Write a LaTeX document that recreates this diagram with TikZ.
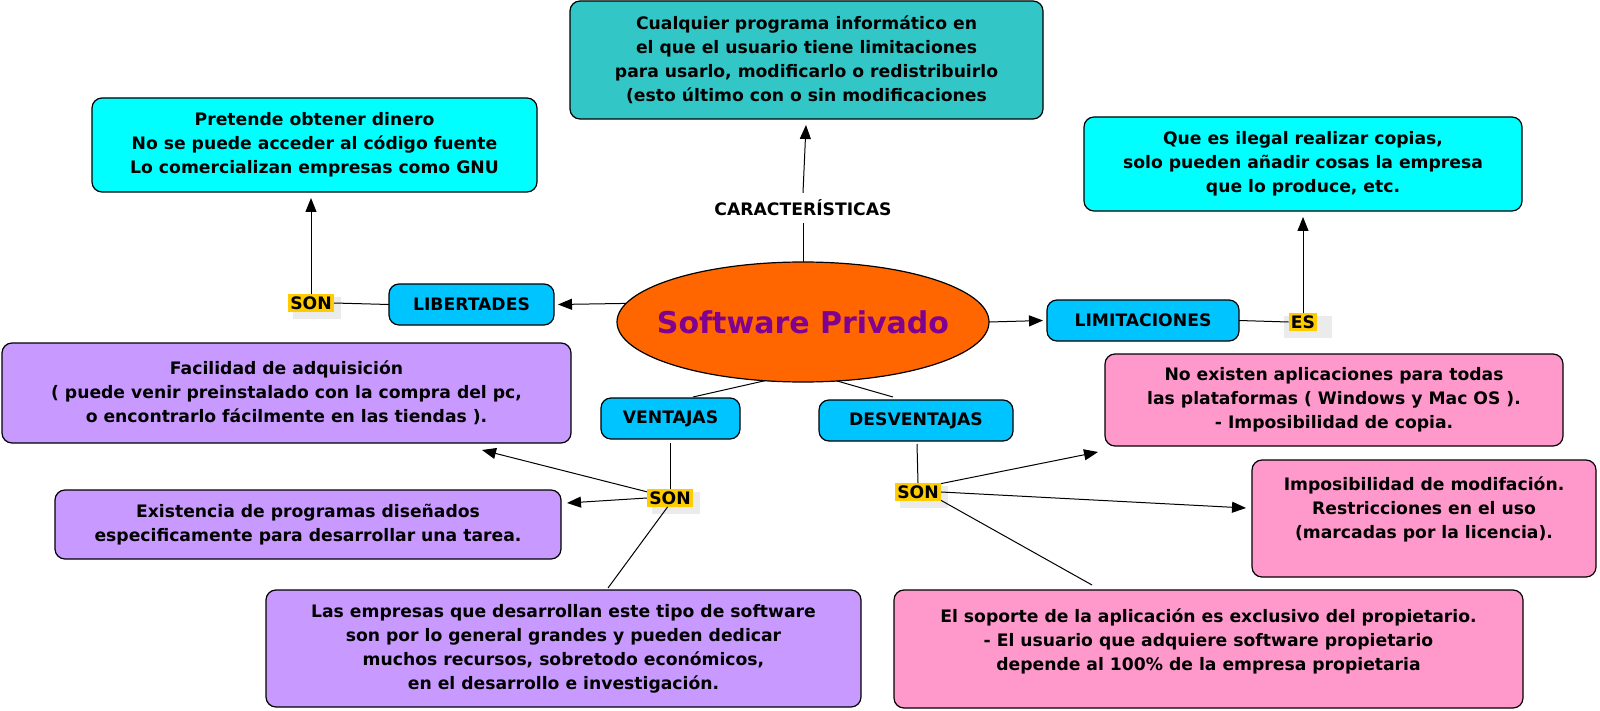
\documentclass[tikz,border=0pt]{standalone}
\usepackage{fontspec}
\setmainfont{DejaVu Sans}
\usetikzlibrary{arrows.meta,shapes.geometric}
\definecolor{teal1}{HTML}{33C6C6}
\definecolor{cyan1}{HTML}{00FFFF}
\definecolor{sky1}{HTML}{00C4FF}
\definecolor{purp1}{HTML}{C899FF}
\definecolor{pink1}{HTML}{FF99CC}
\definecolor{orng}{HTML}{FF6600}
\definecolor{yel}{HTML}{FFCC00}
\definecolor{titlec}{HTML}{800090}
\newcommand{\bx}[6]{\node[boxa,fill=#6,minimum width={(#3-#1)*0.5pt},minimum height={(#4-#2)*0.5pt}] (#5) at (#1,#2) {};}
\begin{document}
\begin{tikzpicture}[x=0.5pt,y=-0.5pt,
  txt/.style={font=\fontsize{8.6}{12}\selectfont\bfseries,align=center},
  boxa/.style={txt,draw=black,line width=0.6pt,rounded corners=5pt,anchor=north west,inner sep=0pt,outer sep=0pt},
  lbl/.style={txt,fill=yel,inner sep=1pt},
  shd/.style={fill=black!8,minimum width=24pt,minimum height=11pt,inner sep=0pt},
  arr/.style={-{Triangle[length=7pt,width=5.5pt]},line width=0.5pt},
  ln/.style={line width=0.5pt}]
\bx{570}{1}{1043}{119}{top}{teal1}
\node[txt] at (top.center) {Cualquier programa informático en\\el que el usuario tiene limitaciones\\para usarlo, modificarlo o redistribuirlo\\(esto último con o sin modificaciones};
\bx{92}{98}{537}{192}{cl}{cyan1}
\node[txt] at (cl.center) {Pretende obtener dinero\\No se puede acceder al código fuente\\Lo comercializan empresas como GNU};
\bx{1084}{117}{1522}{211}{cr}{cyan1}
\node[txt] at (cr.center) {Que es ilegal realizar copias,\\ solo pueden añadir cosas la empresa\\que lo produce, etc.};
\node[ellipse,draw=black,line width=0.6pt,fill=orng,minimum width=186pt,minimum height=60pt,inner sep=0pt,outer sep=0pt] (e) at (803,322) {};
\node[font=\fontsize{15}{16}\selectfont\bfseries,text=titlec] at (e.center) {Software Privado};
\bx{389}{284}{554}{325}{lib}{sky1}\node[txt] at (lib.center) {LIBERTADES};
\bx{1047}{300}{1239}{341}{lim}{sky1}\node[txt] at (lim.center) {LIMITACIONES};
\bx{601}{398}{740}{439}{ven}{sky1}\node[txt] at (ven.center) {VENTAJAS};
\bx{819}{400}{1013}{441}{des}{sky1}\node[txt] at (des.center) {DESVENTAJAS};
\bx{2}{343}{571}{443}{p1}{purp1}
\node[txt] at (p1.center) {Facilidad de adquisición\\ ( puede venir preinstalado con la compra del pc,\\o encontrarlo fácilmente en las tiendas ).};
\bx{55}{490}{561}{559}{p2}{purp1}
\node[txt] at (p2.center) {Existencia de programas diseñados\\especificamente para desarrollar una tarea.};
\bx{266}{590}{861}{707}{p3}{purp1}
\node[txt] at (p3.center) {Las empresas que desarrollan este tipo de software\\ son por lo general grandes y pueden dedicar\\muchos recursos, sobretodo económicos,\\en el desarrollo e investigación.};
\bx{1105}{354}{1563}{446}{k1}{pink1}
\node[txt] at (k1.center) {No existen aplicaciones para todas\\las plataformas ( Windows y Mac OS ).\\- Imposibilidad de copia.};
\bx{1252}{460}{1596}{577}{k2}{pink1}
\node[txt,anchor=north] at ([yshift=-5pt]k2.north) {Imposibilidad de modifación.\\Restricciones en el uso\\ (marcadas por la licencia).};
\bx{894}{590}{1523}{708}{k3}{pink1}
\node[txt,anchor=north] at ([yshift=-6pt]k3.north) {El soporte de la aplicación es exclusivo del propietario.\\- El usuario que adquiere software propietario\\depende al 100\% de la empresa propietaria};
\node[txt] (car) at (803,208) {CARACTERÍSTICAS};
\node[shd] at (317,308) {};\node[lbl] (s1) at (311,303) {SON};
\node[shd] at (1308,327) {};\node[lbl] (es) at (1303,322) {ES};
\node[shd] at (676,503) {};\node[lbl] (s2) at (670,498) {SON};
\node[shd] at (924,497) {};\node[lbl] (s3) at (918,492) {SON};
% connectors
\draw[ln] (e.north) -- (car.south);
\draw[arr] (car.north) -- ([yshift=-3pt]top.south -| 806,0);
\draw[arr] (s1.north) -- ([yshift=-3pt]cl.south -| s1.north);
\draw[ln] (lib.west) -- (s1.east);
\draw[arr] (e.174) -- ([xshift=2pt]lib.east);
\draw[arr] (e.east) -- ([xshift=-2pt]lim.west);
\draw[ln] (lim.east) -- (es.west);
\draw[arr] (es.north) -- ([yshift=-3pt]cr.south -| es.north);
\draw[ln] (e.237) -- (693,397);
\draw[ln] (e.300) -- (893,397);
\draw[ln] (670,443) -- (s2.north);
\draw[ln] (917,444) -- (s3.north);
\draw[arr] (s2.165) -- (482,450);
\draw[arr] (s2.west) -- (567,503);
\draw[ln] (s2.255) -- (608,588);
\draw[arr] (s3.20) -- (1098,452);
\draw[arr] (s3.east) -- (1246,508);
\draw[ln] (s3.-20) -- (1092,585);
\pgfresetboundingbox
\useasboundingbox (0,0) rectangle (1600,711);
\end{tikzpicture}
\end{document}
